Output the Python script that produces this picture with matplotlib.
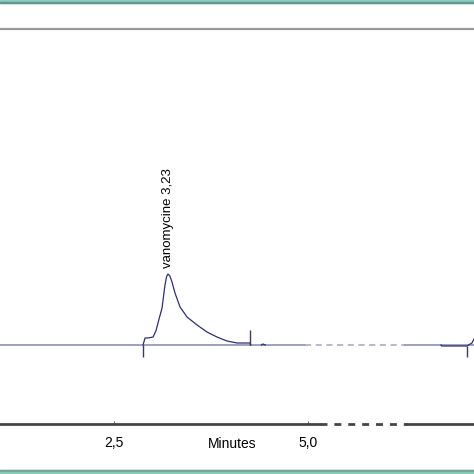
import matplotlib
matplotlib.use("Agg")
import matplotlib.pyplot as plt
from matplotlib.patches import Rectangle

plt.rcParams['font.family'] = ['Liberation Sans', 'DejaVu Sans']

nan = float('nan')

# chromatogram trace (minutes, signal); nan = tramo solo linea base
temps = [2.874, 2.90, 2.938, 3.003, 3.04, 3.067, 3.119, 3.157, 3.18, 3.196, 3.22, 3.247, 3.286,
         3.351, 3.441, 3.570, 3.698, 3.827, 3.956, 4.085, 4.227, 4.253, 4.26,
         nan, 4.40, 4.42, 4.45,
         nan, 6.714, 6.72, 7.0, 7.049, 7.09, 7.113, 7.139]
senal = [0, 7, 7, 8, 14, 22, 37, 60, 69, 71, 69, 63, 52,
         38, 28, 20, 13, 8, 4, 2, 2, 2, 0,
         nan, 0, 1, 0,
         nan, 0, -1, -1, -1, 1, 2, 6]

# marcas de integracion
marcas_t = [2.874, 4.253, 7.049]
marcas_y0 = [0, 0, -1]
marcas_y1 = [-12, 15, -12]

pico_t = 3.196
pico_y = 71
pico_nombre = "vanomycine 3,23"

ticks = [2.5, 5.0]
ticks_txt = ["2,5", "5,0"]

fig = plt.figure(figsize=(4.74, 4.74), dpi=100)
ax = fig.add_axes([0, 0.1055, 1, 0.8333])
ax.set_xlim(1.031, 7.139)
ax.set_ylim(-79, 316)

# linea base gris con tramo discontinuo
ax.plot([1.031, 4.96], [0, 0], color='#8686a8', lw=1.1, zorder=1)
ax.plot([4.96, 6.25], [0, 0], color='#a4a4c0', lw=1.1, ls=(0, (4, 3)), zorder=1)
ax.plot([6.25, 7.139], [0, 0], color='#8686a8', lw=1.1, zorder=1)

ax.plot(temps, senal, color='#2e2e72', lw=0.9, zorder=2)
ax.vlines(marcas_t, marcas_y0, marcas_y1, color='#3a3a60', lw=1.0, zorder=3)

ax.text(pico_t, pico_y + 6, pico_nombre, rotation=90, ha='center', va='bottom', fontsize=9.5)

for s in ['left', 'right']:
    ax.spines[s].set_visible(False)
ax.spines['top'].set_color('#9a9a9a')
ax.spines['top'].set_linewidth(1.6)
ax.spines['bottom'].set_visible(False)
# eje inferior con tramo discontinuo
ax.plot([1.031, 5.16], [-79, -79], color='#454545', lw=2, clip_on=False, zorder=4)
ax.plot([5.16, 6.28], [-79, -79], color='#454545', lw=2, ls=(0, (2.5, 2.5)), clip_on=False, zorder=4)
ax.plot([6.28, 7.139], [-79, -79], color='#454545', lw=2, clip_on=False, zorder=4)

ax.set_yticks([])
ax.set_xticks(ticks)
ax.set_xticklabels(ticks_txt, fontsize=10)
ax.tick_params(axis='x', direction='in', length=2, pad=9, color='#666666')

ax.annotate("Minutes", xy=(4.02, -0.051), xycoords=('data', 'axes fraction'),
            ha='center', va='center', fontsize=10)

# marco verde azulado
fig.patches.append(Rectangle((0, 0.993), 1, 0.007, transform=fig.transFigure, color='#8fcabb'))
fig.patches.append(Rectangle((0, 0.994), 1, 0.002, transform=fig.transFigure, color='#5f9a8e'))
fig.patches.append(Rectangle((0, 0), 1, 0.009, transform=fig.transFigure, color='#8fcabb'))
fig.patches.append(Rectangle((0, 0.007), 1, 0.002, transform=fig.transFigure, color='#6fa99c'))

fig.savefig("out.png", dpi=100)
